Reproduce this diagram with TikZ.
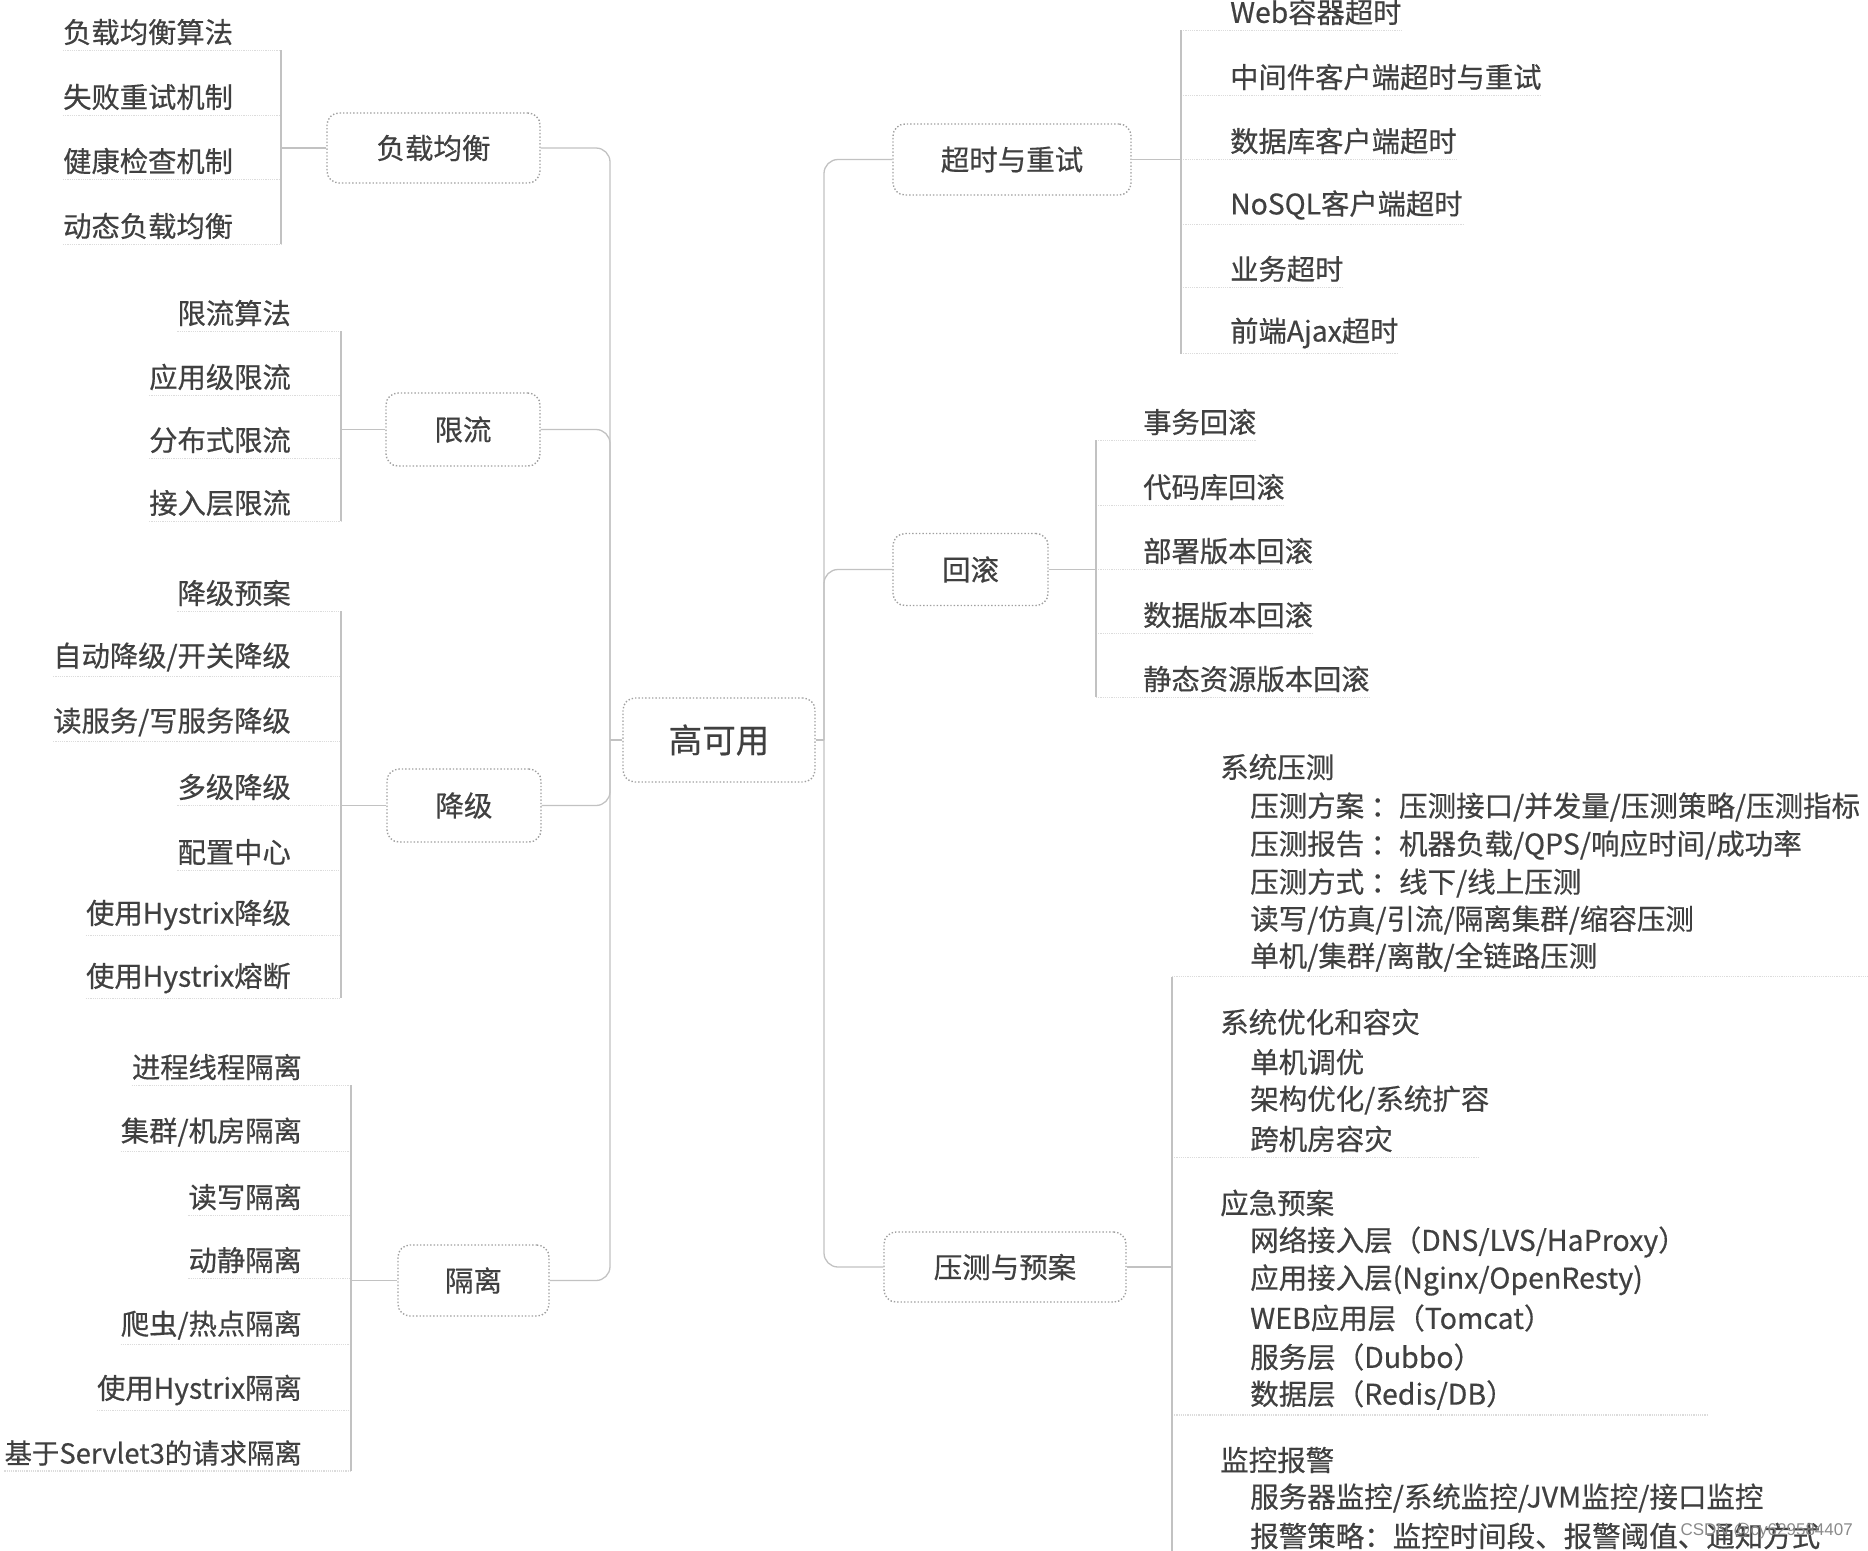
\documentclass[tikz,border=0pt]{standalone}
\usepackage{fontspec}
\setmainfont{Noto Sans CJK SC}[FakeBold=0.5]
\newfontfamily\wmfont{Liberation Sans}
\usetikzlibrary{calc}
\definecolor{txt}{HTML}{404040}
\definecolor{ln}{HTML}{C2C2C2}
\definecolor{bd}{HTML}{A0A0A0}
\definecolor{ul}{HTML}{DCDCDC}
\definecolor{wm}{HTML}{8A8A8A}
\begin{document}
\begin{tikzpicture}[x=1pt,y=-1pt,
  leaf/.style={font=\fontsize{28.3}{34}\selectfont, text=txt, inner xsep=0pt, inner ysep=5pt},
  bleaf/.style={font=\fontsize{28.5}{34}\selectfont, text=txt, inner xsep=0pt, inner ysep=5pt, anchor=west},
  topic/.style={draw=bd, line width=1.4pt, dotted, rounded corners=12pt, font=\fontsize{28.5}{34}\selectfont, text=txt, inner sep=0pt},
  conn/.style={draw=ln, line width=1.3pt},
  uline/.style={draw=ul, line width=1.2pt, densely dotted},
  spine/.style={draw=ln, line width=1.1pt},
]
\useasboundingbox (0,0) rectangle (1868,1550);
\clip (0,0) rectangle (1868,1550);

% central and main topics
\node[topic, minimum width=192pt, minimum height=84pt, font=\fontsize{33.5}{40}\selectfont] (root) at (719,740) {高可用};
\node[topic, minimum width=213pt, minimum height=70pt] (lb) at (433.5,148) {负载均衡};
\node[topic, minimum width=154pt, minimum height=73pt] (xl) at (463,429.5) {限流};
\node[topic, minimum width=154pt, minimum height=73pt] (jj) at (464,805.5) {降级};
\node[topic, minimum width=151pt, minimum height=71pt] (gl) at (473.5,1280.5) {隔离};
\node[topic, minimum width=238pt, minimum height=71pt] (cs) at (1012,159.5) {超时与重试};
\node[topic, minimum width=155pt, minimum height=72pt] (hg) at (970.5,569.5) {回滚};
\node[topic, minimum width=242pt, minimum height=70pt] (yc) at (1005,1267) {压测与预案};

% trunks
\coordinate (LT) at (610,740);
\coordinate (RT) at (824,740);
\draw[conn] (root.west) -- (LT);
\draw[conn] (root.east) -- (RT);
\foreach \n in {lb,xl,jj,gl} {\draw[conn, rounded corners=14pt] (LT) |- (\n.east);}
\foreach \n in {cs,hg,yc} {\draw[conn, rounded corners=14pt] (RT) |- (\n.west);}

% spine coordinates
\coordinate (sp1) at (281,148);
\coordinate (sp2) at (341,429.5);
\coordinate (sp3) at (341,805.5);
\coordinate (sp4) at (351,1280.5);
\coordinate (sp5) at (1181,159.5);
\coordinate (sp6) at (1096,569.5);
\coordinate (sp7) at (1172,1267);
\coordinate (sp7b) at (1172,1560);

% 负载均衡 leaves
\foreach \y/\t [count=\i] in {32/负载均衡算法, 97/失败重试机制, 161/健康检查机制, 226/动态负载均衡} {
  \node[leaf, anchor=west] (lb\i) at (63,\y) {\t};
  \draw[uline] (lb\i.south west) -- (lb\i.south -| sp1);
}
\draw[spine] (lb1.south -| sp1) -- (lb4.south -| sp1);
\draw[conn] (sp1) -- (lb.west);

% 限流 leaves
\foreach \y/\t [count=\i] in {313/限流算法, 377/应用级限流, 440/分布式限流, 503/接入层限流} {
  \node[leaf, anchor=east] (xl\i) at (291,\y) {\t};
  \draw[uline] (xl\i.south west) -- (xl\i.south -| sp2);
}
\draw[spine] (xl1.south -| sp2) -- (xl4.south -| sp2);
\draw[conn] (sp2) -- (xl.west);

% 降级 leaves
\foreach \y/\t [count=\i] in {593/降级预案, 657/{自动降级/开关降级}, 722/{读服务/写服务降级}, 787/多级降级, 852/配置中心, 915/使用Hystrix降级, 978/使用Hystrix熔断} {
  \node[leaf, anchor=east] (jj\i) at (291,\y) {\t};
  \draw[uline] (jj\i.south west) -- (jj\i.south -| sp3);
}
\draw[spine] (jj1.south -| sp3) -- (jj7.south -| sp3);
\draw[conn] (sp3) -- (jj.west);

% 隔离 leaves
\foreach \y/\t [count=\i] in {1067/进程线程隔离, 1132/{集群/机房隔离}, 1197/读写隔离, 1260/动静隔离, 1325/{爬虫/热点隔离}, 1390/使用Hystrix隔离, 1453/{\fontsize{27.4}{34}\selectfont 基于Servlet3的请求隔离}} {
  \node[leaf, anchor=east] (gl\i) at (302,\y) {\t};
  \draw[uline] (gl\i.south west) -- (gl\i.south -| sp4);
}
\draw[spine] (gl1.south -| sp4) -- (gl7.south -| sp4);
\draw[conn] (sp4) -- (gl.west);

% 超时与重试 leaves
\foreach \y/\t [count=\i] in {12/Web容器超时, 77/中间件客户端超时与重试, 141/数据库客户端超时, 205/NoSQL客户端超时, 269/业务超时, 333/前端Ajax超时} {
  \node[leaf, anchor=west] (cs\i) at (1230,\y) {\t};
  \draw[uline] (cs\i.south -| sp5) -- (cs\i.south east);
}
\draw[spine] (cs1.south -| sp5) -- (cs6.south -| sp5);
\draw[conn] (cs.east) -- (sp5);

% 回滚 leaves
\foreach \y/\t [count=\i] in {422/事务回滚, 487/代码库回滚, 551/部署版本回滚, 615/数据版本回滚, 679/静态资源版本回滚} {
  \node[leaf, anchor=west] (hg\i) at (1143,\y) {\t};
  \draw[uline] (hg\i.south -| sp6) -- (hg\i.south east);
}
\draw[spine] (hg1.south -| sp6) -- (hg5.south -| sp6);
\draw[conn] (hg.east) -- (sp6);

% 压测与预案 blocks
\node[bleaf] (b1h) at (1220,767) {系统压测};
\node[bleaf] (b1a) at (1250,807) {压测方案 ：压测接口/并发量/压测策略/压测指标};
\node[bleaf] (b1b) at (1250,845) {压测报告 ：机器负载/QPS/响应时间/成功率};
\node[bleaf] (b1c) at (1250,883) {压测方式 ：线下/线上压测};
\node[bleaf] (b1d) at (1250,920) {读写/仿真/引流/隔离集群/缩容压测};
\node[bleaf] (b1e) at (1250,957) {单机/集群/离散/全链路压测};

\node[bleaf] (b2h) at (1220,1022) {系统优化和容灾};
\node[bleaf] (b2a) at (1250,1062) {单机调优};
\node[bleaf] (b2b) at (1250,1100) {架构优化/系统扩容};
\node[bleaf] (b2c) at (1250,1139) {跨机房容灾};

\node[bleaf] (b3h) at (1220,1203) {应急预案};
\node[bleaf] (b3a) at (1250,1242) {网络接入层（DNS/LVS/HaProxy）};
\node[bleaf] (b3b) at (1250,1280) {应用接入层(Nginx/OpenResty)};
\node[bleaf] (b3c) at (1250,1318) {WEB应用层（Tomcat）};
\node[bleaf] (b3d) at (1250,1357) {服务层（Dubbo）};
\node[bleaf] (b3e) at (1250,1395) {数据层（Redis/DB）};

\node[bleaf] (b4h) at (1220,1460) {监控报警};
\node[bleaf] (b4a) at (1250,1498) {服务器监控/系统监控/JVM监控/接口监控};
\node[bleaf] (b4b) at (1250,1536) {报警策略：监控时间段、报警阈值、通知方式};

\draw[uline] (b1e.south -| sp7) -- ($(b1e.south -| b1a.east)+(40,0)$);
\draw[uline] (b2c.south -| sp7) -- ($(b2c.south -| b2h.east)+(60,0)$);
\draw[uline] (b3e.south -| sp7) -- ($(b3e.south -| b3a.east)+(20,0)$);
\draw[spine] (b1e.south -| sp7) -- (sp7b);
\draw[conn] (yc.east) -- (sp7);

% watermark
\node[font=\wmfont\fontsize{17}{19}\selectfont, text=wm, anchor=east, inner sep=0pt] (wmk) at (1853,1531) {CSDN @cy629584407};
\end{tikzpicture}
\end{document}
